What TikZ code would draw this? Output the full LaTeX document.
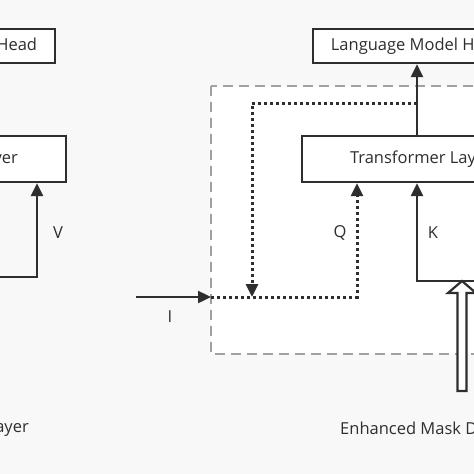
\documentclass[tikz,border=0pt]{standalone}
\usepackage{fontspec}
\setmainfont{Open Sans}
\usetikzlibrary{arrows.meta}
\definecolor{bg}{HTML}{F8F8F8}
\definecolor{ink}{HTML}{2E2E2E}
\definecolor{dashc}{HTML}{A0A0A0}
\begin{document}
\begin{tikzpicture}[x=1pt,y=-1pt,
  box/.style={draw=ink, line width=2.4pt, fill=white, inner sep=0pt, text=ink, font=\fontsize{16.5}{19}\selectfont},
  conn/.style={draw=ink, line width=2.4pt, -{Triangle[length=13pt,width=12pt]}},
  dotline/.style={draw=ink, line width=3pt, dash pattern=on 3pt off 3pt},
  dotconn/.style={dotline, -{Triangle[length=13pt,width=12pt]}},
  lbl/.style={text=ink, inner sep=0pt, font=\fontsize{16.5}{19}\selectfont},
  region/.style={draw=dashc, line width=2.4pt, dash pattern=on 10pt off 6pt, fill=white}]
\useasboundingbox (0,0) rectangle (474,474);
\clip (0,0) rectangle (474,474);
\fill[bg] (0,0) rectangle (474,474);
% dashed region
\draw[region] (211,86) rectangle (530,354);
% boxes
\node[box, minimum width=208pt, minimum height=34pt] (lmL) at (-49,46) {Language Model Head};
\node[box, minimum width=228pt, minimum height=46pt] (tL) at (-48,159) {Transformer Layer\kern10pt};
\node[box, minimum width=208pt, minimum height=34pt] (lmR) at (417,46) {Language Model Head};
\node[box, minimum width=228pt, minimum height=46pt] (tR) at (416,159) {\kern10pt Transformer Layer};
% labels
\node[lbl, anchor=east] (capL) at (29,428) {BERT decoding layer};
\node[lbl, anchor=west] (capR) at (340,428) {Enhanced Mask Decoder};
\node[lbl] (vlab) at (58,233) {V};
\node[lbl] (qlab) at (340,233) {Q};
\node[lbl] (klab) at (433,233) {K};
\node[lbl] (ilab) at (170,317) {I};
% coordinates
\coordinate (hL) at (37,277);
\coordinate (hLend) at (0,277);
\coordinate (hK) at (417,281);
\coordinate (hEnd) at (520,281);
\coordinate (J) at (417,103);
\coordinate (Jl) at (252,103);
\coordinate (Dq) at (252,297);
\coordinate (Iin) at (136,297);
\coordinate (Ib) at (211,297);
\coordinate (Qc) at (357,297);
% left V
\draw[conn] (hLend) -- (hL) -- (hL |- tL.south);
% right K
\draw[conn] (hEnd) -- (hK) -- (hK |- tR.south);
% transformer to LM head
\draw[conn] (lmR.south |- tR.north) -- (lmR.south);
% dotted feedback
\draw[dotconn] (J) -- (Jl) -- (Dq);
% input I
\draw[conn] (Iin) -- (Ib);
\draw[dotconn] (Ib) -- (Qc) -- (Qc |- tR.south);
% hollow arrow
\draw[draw=ink, line width=2.2pt, fill=white, line join=miter]
  (462,281) -- (476,293) -- (466.5,293) -- (466.5,391) -- (457.5,391) -- (457.5,293) -- (448,293) -- cycle;
\end{tikzpicture}
\end{document}
